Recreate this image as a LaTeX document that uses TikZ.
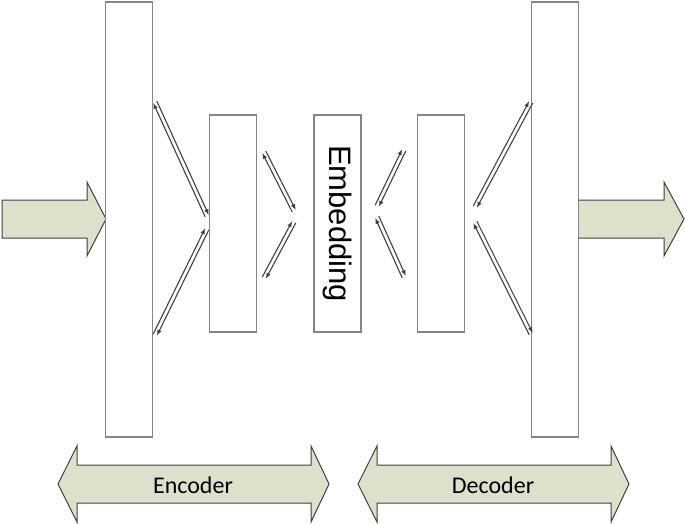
\documentclass[tikz,border=0pt]{standalone}
\usepackage{fontspec}
\setmainfont{Carlito}
\newfontfamily\embfont{Liberation Sans}
\usepackage{xcolor}
\usepackage{tikz}
\usetikzlibrary{calc,arrows.meta}
\definecolor{frame}{HTML}{858585}
\definecolor{ink}{HTML}{404040}
\definecolor{sage}{HTML}{DCE1CB}
\tikzset{
  layer/.style={draw=frame, fill=white, line width=1.6pt, minimum width=47pt, inner sep=0pt},
  big/.style={layer, minimum height=435pt},
  small/.style={layer, minimum height=217pt},
  blockarrow/.style={draw=ink, fill=sage, line width=1pt, line join=miter},
  link/.style={draw=ink, line width=1.1pt},
  tip/.style={-{Latex[length=6pt,width=4.5pt]}},
  lab/.style={text=black, font=\fontsize{24}{24}\selectfont},
}

\begin{document}
\begin{tikzpicture}[x=1pt, y=-1pt]
  \useasboundingbox (0,0) rectangle (685,524);

  % input / output arrows
  \draw[blockarrow] (2,200) -- (87,200) -- (87,182) -- (106,219) -- (87,256) -- (87,238) -- (2,238) -- cycle;
  \draw[blockarrow] (570,200) -- (664,200) -- (664,182) -- (684,219) -- (664,256) -- (664,238) -- (570,238) -- cycle;

  % encoder / decoder ranges
  \draw[blockarrow] (58,484) -- (77,446) -- (77,465) -- (311,465) -- (311,446) -- (329,484)
    -- (311,522) -- (311,503) -- (77,503) -- (77,522) -- cycle;
  \draw[blockarrow] (358,484) -- (377,446) -- (377,465) -- (611,465) -- (611,446) -- (629,484)
    -- (611,522) -- (611,503) -- (377,503) -- (377,522) -- cycle;
  \node[lab] (enc) at (193,485) {Encoder};
  \node[lab] (dec) at (493,485) {Decoder};

  % layers
  \node[big] (in) at (129,219.5) {};
  \node[small] (h1) at (233,223.5) {};
  \node[small] (emb) at (337.5,223.5) {};
  \node[small] (h2) at (441,223.5) {};
  \node[big] (out) at (555,219.5) {};
  \node[rotate=-90, font=\embfont\fontsize{31}{31}\selectfont] (embtxt) at (emb) {Embedding};

  % ends of the connector pairs
  \coordinate (a1) at (155,102);  \coordinate (b1) at (207,216);
  \coordinate (a2) at (155,335);  \coordinate (b2) at (207,229);
  \coordinate (a3) at (264,152);  \coordinate (b3) at (294,211);
  \coordinate (a4) at (264,278);  \coordinate (b4) at (294,222);
  \coordinate (a5) at (377,206);  \coordinate (b5) at (404,150);
  \coordinate (a6) at (377,217);  \coordinate (b6) at (404,277);
  \coordinate (a7) at (475,207);  \coordinate (b7) at (531,102);
  \coordinate (a8) at (475,222);  \coordinate (b8) at (531,334);

  \foreach \s/\e in {a1/b1,a2/b2,a3/b3,a4/b4,a5/b5,a6/b6,a7/b7,a8/b8} {
    \draw[link,tip] ($(\s)!2pt!90:(\e)$) -- ($(\e)!2pt!-90:(\s)$);
    \draw[link,tip] ($(\e)!2pt!90:(\s)$) -- ($(\s)!2pt!-90:(\e)$);
  }
\end{tikzpicture}
\end{document}
